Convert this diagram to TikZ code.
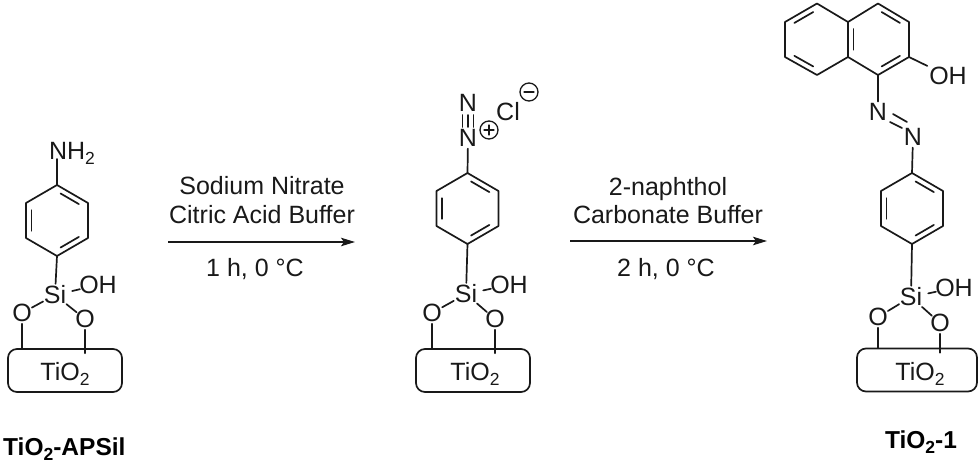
\documentclass[tikz,border=0pt]{standalone}
\usepackage{fontspec}
\setmainfont{Liberation Sans}
\usetikzlibrary{calc,arrows.meta}
\newcommand{\subtwo}{\raisebox{-5pt}{\fontsize{17.5}{17.5}\selectfont 2}}
\tikzset{
  x=1pt,y=-1pt,
  bond/.style={line width=1.7pt,line cap=round,line join=round,black!90},
  atom/.style={inner sep=0pt,outer sep=2pt,font=\fontsize{25}{25}\selectfont,text=black!90},
  lab/.style={inner sep=0pt,anchor=base,font=\fontsize{25}{25}\selectfont,text=black!90},
  cmpd/.style={inner sep=0pt,font=\fontsize{24.5}{25}\selectfont\bfseries,text=black},
  rx/.style={line width=1.6pt,black!90,-{Stealth[length=14pt,width=8.5pt,inset=3pt]}},
  surf/.style={draw,line width=1.7pt,rounded corners=9pt,black!90},
  charge/.style={circle,draw,line width=1.3pt,minimum size=18pt,inner sep=0pt,black!90}
}
\newcommand{\inner}[3]{\draw[bond] ($($(#1)!.14!(#2)$)!.18!(#3)$)--($($(#2)!.14!(#1)$)!.18!(#3)$);}
\newcommand{\benzring}[2]{%
  \coordinate (#1c) at (#2);
  \coordinate (#1t) at ($(#1c)+(0,-35.5)$);
  \coordinate (#1ur) at ($(#1c)+(31,-17.5)$);
  \coordinate (#1lr) at ($(#1c)+(31,17.5)$);
  \coordinate (#1b) at ($(#1c)+(0,35.5)$);
  \coordinate (#1ll) at ($(#1c)+(-31,17.5)$);
  \coordinate (#1ul) at ($(#1c)+(-31,-17.5)$);
  \draw[bond] (#1t)--(#1ur)--(#1lr)--(#1b)--(#1ll)--(#1ul)--cycle;
  \inner{#1t}{#1ur}{#1c}\inner{#1lr}{#1b}{#1c}\inner{#1ll}{#1ul}{#1c}}
\newcommand{\silane}[8]{%
  \node[atom] (#1si) at (#2) {Si};
  \node[atom] (#1oh) at (#3) {OH};
  \node[atom] (#1ol) at (#4) {O};
  \node[atom] (#1or) at (#5) {O};
  \draw[bond] ($(#1si)!.40!(#1oh)$)--($(#1si)!.58!(#1oh)$);
  \draw[bond] ($(#1si)!.36!(#1ol)$)--($(#1si)!.70!(#1ol)$);
  \draw[bond] ($(#1si)!.38!(#1or)$)--($(#1si)!.72!(#1or)$);
  \node[surf,minimum width=#7pt,minimum height=43pt,inner sep=0pt] (#1box) at (#6) {};
  \node[lab] (#1ti) at (#8) {TiO\subtwo};
  \draw[bond] (#1ol.south)--(#1ol.south |- #1box.north);
  \draw[bond] (#1or.south)--($(#1or.south |- #1box.north)+(0,5)$);
}
\begin{document}
\begin{tikzpicture}
\useasboundingbox (0,0) rectangle (980,464);
% Molecule 1
\benzring{a}{57,220.5}
\node[atom,anchor=base west,outer sep=0pt] (an) at (49,159) {N};
\node[atom,anchor=base west,outer sep=0pt] (ah) at (an.base east) {H\subtwo};
\draw[bond] (at)--(an.south -| at);
\silane{a}{55,295}{98,285}{22,313}{85,319}{65,370.5}{114}{65,380}
\draw[bond] (ab)--(asi);
\node[cmpd,anchor=base west] (al) at (3,455) {TiO\subtwo-APSil};
% Arrow 1
\coordinate (r1s) at (168,242);
\coordinate (r1e) at (355,242);
\draw[rx] (r1s)--(r1e);
\node[lab] (r1a) at (262,194) {Sodium Nitrate};
\node[lab] (r1b) at (262,223) {Citric Acid Buffer};
\node[lab] (r1c) at (255,276) {1 h, 0 °C};
% Molecule 2
\benzring{b}{467.5,208.5}
\node[atom] (bn) at (468,138) {N};
\node[atom] (bnt) at (468,103) {N};
\draw[bond] (bt)--(bn);
\coordinate (bn1) at (468,115);
\coordinate (bn2) at (468,127);
\foreach \d in {-5.5,0,5.5}{\draw[bond] ($(bn1)+(\d,0)$)--($(bn2)+(\d,0)$);}
\node[charge] (bp) at (489,130) {};
\draw[bond,line width=1.3pt] ($(bp)+(-5,0)$)--($(bp)+(5,0)$) ($(bp)+(0,-5)$)--($(bp)+(0,5)$);
\node[atom] (bcl) at (508,112) {Cl};
\node[charge] (bm) at (529,92) {};
\draw[bond,line width=1.3pt] ($(bm)+(-5,0)$)--($(bm)+(5,0)$);
\silane{b}{466,294}{509,285}{432,313}{495,319}{473,370.5}{114}{475,380}
\draw[bond] (bb)--(bsi);
% Arrow 2
\coordinate (r2s) at (570,241);
\coordinate (r2e) at (767,241);
\draw[rx] (r2s)--(r2e);
\node[lab] (r2a) at (668,195) {2-naphthol};
\node[lab] (r2b) at (668,223) {Carbonate Buffer};
\node[lab] (r2c) at (666,276) {2 h, 0 °C};
% Molecule 3
\benzring{c}{912,208.5}
\silane{c}{911,297}{954,288}{878,317}{940,323}{917,370}{120}{920,380}
\draw[bond] (cb)--(csi);
\node[cmpd,anchor=base] (cl) at (921,448) {TiO\subtwo-1};
\node[atom] (n1) at (878,112) {N};
\node[atom] (n2) at (913,137) {N};
\draw[bond] (n2)--(ct);
\coordinate (d1s) at (893,114);\coordinate (d1e) at (907,122);
\coordinate (d2s) at (890,122);\coordinate (d2e) at (902,128);
\draw[bond] (d1s)--(d1e) (d2s)--(d2e);
\coordinate (q1) at (878,75);\coordinate (q2) at (909,57);\coordinate (q3) at (909,22);
\coordinate (q4) at (878,3.5);\coordinate (q5) at (848,22);\coordinate (q6) at (848,57);
\coordinate (q7) at (817,3.5);\coordinate (q8) at (785,22);\coordinate (q9) at (785,57);
\coordinate (q10) at (817,75);
\coordinate (qc) at (878.5,39);\coordinate (qd) at (816.5,39);
\draw[bond] (q1)--(q2)--(q3)--(q4)--(q5)--(q6)--cycle (q5)--(q7)--(q8)--(q9)--(q10)--(q6);
\inner{q1}{q2}{qc}\inner{q3}{q4}{qc}\inner{q5}{q6}{qc}
\inner{q7}{q8}{qd}\inner{q9}{q10}{qd}
\node[atom] (noh) at (948,76) {OH};
\draw[bond] (q2)--(noh);
\draw[bond] (q1)--(n1);
\end{tikzpicture}
\end{document}
